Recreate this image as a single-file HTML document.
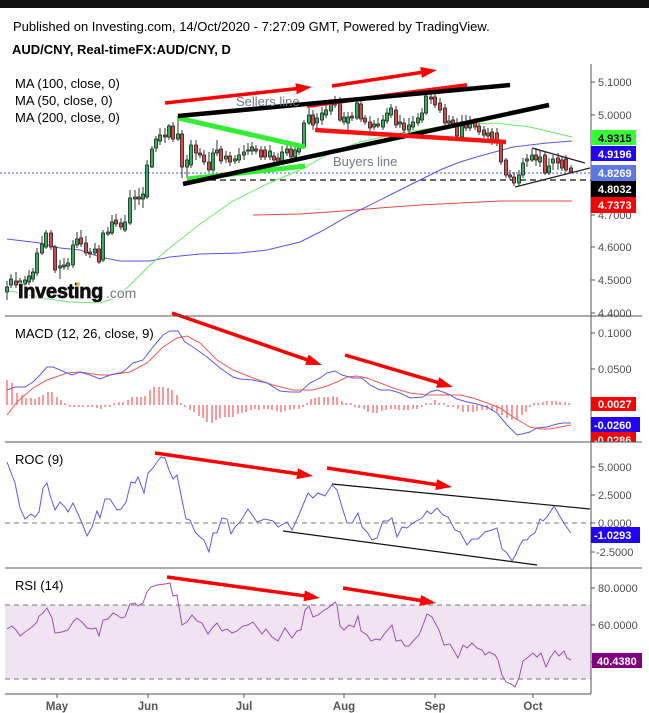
<!DOCTYPE html>
<html><head><meta charset="utf-8"><style>
html,body{margin:0;padding:0;background:#fff;}
svg{display:block;font-family:"Liberation Sans",Arial,sans-serif;}
.ax{font-size:11px;fill:#4d4d4d;}
.lb{font-size:11px;font-weight:bold;fill:#fff;}
.t13{font-size:13px;fill:#000;}
.mo{font-size:11.5px;font-weight:bold;fill:#555;text-anchor:middle;}
</style></head><body>
<svg width="649" height="713" viewBox="0 0 649 713" xmlns="http://www.w3.org/2000/svg">
<defs>
<marker id="ah" markerUnits="userSpaceOnUse" markerWidth="18" markerHeight="12" refX="3" refY="5.5" orient="auto"><path d="M0,0 L16,5.5 L0,11 z" fill="#ff0000"/></marker>
<clipPath id="cm"><rect x="0" y="316" width="649" height="126"/></clipPath>
</defs>
<rect x="0" y="0" width="649" height="713" fill="#fff"/>
<rect x="0" y="0" width="649" height="8" fill="#111"/>
<text x="13" y="31" class="t13">Published on Investing.com, 14/Oct/2020 - 7:27:09 GMT, Powered by TradingView.</text>
<text x="12" y="54" class="t13" font-weight="bold">AUD/CNY, Real-timeFX:AUD/CNY, D</text>

<!-- ===== PRICE PANEL ===== -->
<text x="15" y="88" class="t13">MA (100, close, 0)</text>
<text x="15" y="105" class="t13">MA (50, close, 0)</text>
<text x="15" y="122" class="t13">MA (200, close, 0)</text>

<!-- blue dotted last price line -->
<line x1="0" y1="173" x2="591" y2="173" stroke="#3355ff" stroke-width="1" stroke-dasharray="2,2"/>
<!-- black dashed -->
<line x1="190" y1="180" x2="591" y2="180" stroke="#111" stroke-width="1.3" stroke-dasharray="6,4"/>

<!-- MAs -->
<polyline fill="none" stroke="#ee4444" stroke-width="1" points="253,215 300,214 330,212 380,208 420,205 460,203 500,201 572,201"/>
<polyline fill="none" stroke="#5555ee" stroke-width="1" points="7,239 40,243 60,248 80,250 100,257 120,261 150,261 170,257 200,254 240,253 267,250 300,242 320,232 350,215 390,195 400,190 420,180 440,170 460,162 480,156 513,147 547,143 572,141"/>
<polyline fill="none" stroke="#66ee66" stroke-width="1" points="5,290 20,293 40,298 70,302 100,303 115,298 130,285 147,268 167,250 200,224 233,201 267,184 300,170 330,153 360,142 400,133 440,127 470,124 497,123 530,127 572,137"/>

<!-- candles wicks -->
<path fill="none" stroke="#333" stroke-width="1" d="M7 281V300M11 274V288M16 272V288M20 278V287M25 276V287M29 270V285M33 268V282M37 248V276M42 236V255M46 230V249M51 230V250M55 245V273M60 260V279M64 258V270M68 258V270M73 240V268M77 232V248M81 230V247M86 236V256M90 248V258M95 243V255M99 245V264M103 230V262M108 227V236M112 215V235M116 214V227M121 218V230M125 215V232M130 190V225M135 190V210M139 188V205M143 187V208M147 160V199M152 146V168M156 136V152M160 128V145M165 128V143M169 124V140M173 122V142M178 116V141M182 130V178M187 155V178M191 140V168M196 140V160M200 148V158M204 150V165M209 152V172M213 148V172M217 140V156M221 146V164M226 151V163M230 152V166M235 155V164M239 148V163M244 145V160M248 143V155M252 142V155M256 145V154M261 146V160M265 146V160M270 145V160M274 152V163M278 153V165M282 146V165M287 141V156M291 145V160M295 145V159M299 144V155M304 120V148M309 108V125M313 110V130M317 113V128M322 107V125M326 104V118M331 99V115M335 96V108M340 97V122M344 112V125M348 112V130M352 112V121M357 100V120M361 100V122M365 115V125M370 116V131M374 120V130M378 118V128M383 115V130M387 108V124M391 104V118M396 106V128M400 115V128M404 118V133M409 118V133M413 116V130M418 113V126M422 108V123M426 92V115M431 92V104M435 93V108M440 98V113M445 104V125M449 115V128M453 116V128M457 118V139M462 115V139M466 115V131M470 116V131M475 118V130M479 123V135M484 126V138M488 128V139M492 128V145M497 128V146M501 140V165M506 158V178M510 170V180M514 172V186M519 170V186M523 158V178M527 154V167M532 149V162M536 148V166M540 150V167M545 151V175M549 158V175M553 155V170M558 153V170M562 156V171M566 155V172M571 165V173"/>
<!-- green bodies -->
<path fill="#2fb356" stroke="#1b1b1b" stroke-width="0.8" d="M5.5 287h3v5h-3zM9.5 279h3v6h-3zM18.5 281h3v3h-3zM23.5 280h3v4h-3zM27.5 276h3v6h-3zM31.5 272h3v7h-3zM35.5 253h3v20h-3zM40.5 244h3v9h-3zM44.5 233h3v14h-3zM58.5 266h3v2h-3zM62.5 265h3v2h-3zM66.5 263h3v3h-3zM71.5 245h3v20h-3zM75.5 239h3v6h-3zM93.5 249h3v4h-3zM101.5 233h3v27h-3zM106.5 232h3v2h-3zM110.5 222h3v11h-3zM123.5 222h3v8h-3zM128.5 198h3v25h-3zM133.5 197h3v2h-3zM141.5 194h3v5h-3zM145.5 165h3v32h-3zM150.5 149h3v18h-3zM154.5 139h3v9h-3zM158.5 135h3v6h-3zM167.5 126h3v11h-3zM176.5 134h3v5h-3zM185.5 160h3v7h-3zM189.5 145h3v20h-3zM211.5 153h3v17h-3zM215.5 150h3v3h-3zM224.5 156h3v3h-3zM233.5 159h3v2h-3zM237.5 155h3v5h-3zM242.5 152h3v3h-3zM246.5 150h3v1h-3zM250.5 147h3v4h-3zM268.5 151h3v6h-3zM280.5 152h3v11h-3zM285.5 149h3v4h-3zM293.5 150h3v7h-3zM297.5 148h3v4h-3zM302.5 123h3v24h-3zM307.5 115h3v8h-3zM315.5 118h3v5h-3zM320.5 113h3v7h-3zM324.5 110h3v5h-3zM329.5 104h3v7h-3zM333.5 100h3v5h-3zM342.5 117h3v5h-3zM346.5 117h3v6h-3zM355.5 103h3v15h-3zM372.5 124h3v3h-3zM381.5 120h3v7h-3zM385.5 113h3v8h-3zM389.5 108h3v7h-3zM398.5 122h3v2h-3zM407.5 125h3v5h-3zM411.5 122h3v5h-3zM416.5 118h3v5h-3zM420.5 113h3v7h-3zM424.5 96h3v17h-3zM447.5 121h3v2h-3zM460.5 122h3v15h-3zM468.5 122h3v6h-3zM486.5 133h3v3h-3zM517.5 175h3v8h-3zM521.5 163h3v12h-3zM525.5 159h3v2h-3zM530.5 155h3v5h-3zM538.5 157h3v5h-3zM547.5 166h3v7h-3zM551.5 159h3v4h-3z"/>
<!-- red bodies -->
<path fill="#e04646" stroke="#1b1b1b" stroke-width="0.8" d="M14.5 281h3v4h-3zM49.5 233h3v14h-3zM53.5 247h3v23h-3zM79.5 238h3v6h-3zM84.5 243h3v10h-3zM88.5 252h3v2h-3zM97.5 249h3v13h-3zM114.5 220h3v4h-3zM119.5 223h3v4h-3zM137.5 197h3v2h-3zM163.5 135h3v2h-3zM171.5 126h3v13h-3zM180.5 134h3v33h-3zM194.5 145h3v8h-3zM198.5 153h3v2h-3zM202.5 155h3v7h-3zM207.5 162h3v8h-3zM219.5 149h3v12h-3zM228.5 156h3v6h-3zM254.5 149h3v2h-3zM259.5 150h3v7h-3zM263.5 150h3v7h-3zM272.5 156h3v4h-3zM276.5 158h3v4h-3zM289.5 149h3v8h-3zM311.5 115h3v10h-3zM338.5 100h3v20h-3zM350.5 116h3v2h-3zM359.5 104h3v15h-3zM363.5 118h3v4h-3zM368.5 122h3v6h-3zM376.5 124h3v2h-3zM394.5 110h3v15h-3zM402.5 123h3v7h-3zM429.5 97h3v2h-3zM433.5 97h3v8h-3zM438.5 103h3v7h-3zM443.5 108h3v15h-3zM451.5 120h3v5h-3zM455.5 123h3v13h-3zM464.5 122h3v6h-3zM473.5 122h3v5h-3zM477.5 126h3v6h-3zM482.5 130h3v5h-3zM490.5 132h3v10h-3zM495.5 133h3v10h-3zM499.5 142h3v20h-3zM504.5 160h3v15h-3zM508.5 175h3v2h-3zM512.5 177h3v6h-3zM534.5 155h3v5h-3zM543.5 155h3v18h-3zM556.5 158h3v5h-3zM560.5 160h3v8h-3zM564.5 159h3v11h-3zM569.5 168h3v4h-3z"/>

<!-- logo -->
<text x="18" y="298" font-size="20" font-weight="bold" fill="#111" stroke="#fff" stroke-width="2.5" paint-order="stroke" letter-spacing="-0.3">Investing</text>
<text x="18" y="298" font-size="20" font-weight="bold" fill="#111" stroke="#111" stroke-width="0.7" letter-spacing="-0.3">Investing</text>
<text x="106" y="298" font-size="14" fill="#777" stroke="#fff" stroke-width="2" paint-order="stroke">.com</text>
<circle cx="78" cy="284" r="1.8" fill="#f5a623"/>

<!-- annotations price -->
<line x1="178" y1="118" x2="305" y2="147" stroke="#33ee33" stroke-width="5"/>
<line x1="187" y1="179" x2="305" y2="166" stroke="#33ee33" stroke-width="5"/>
<line x1="307" y1="106" x2="467" y2="85" stroke="#ff1111" stroke-width="4"/>
<line x1="178" y1="116" x2="510" y2="85" stroke="#000" stroke-width="4.5"/>
<line x1="183" y1="184" x2="549" y2="105" stroke="#000" stroke-width="4.5"/>
<line x1="315" y1="130" x2="506" y2="142" stroke="#ff1111" stroke-width="4.5"/>
<line x1="532" y1="148" x2="585" y2="163" stroke="#222" stroke-width="1.3"/>
<line x1="515" y1="187" x2="590" y2="168" stroke="#222" stroke-width="1.3"/>
<line x1="165" y1="103" x2="299" y2="88.4" stroke="#ff0000" stroke-width="3.5" marker-end="url(#ah)"/>
<line x1="332" y1="86" x2="424" y2="72" stroke="#ff0000" stroke-width="3.5" marker-end="url(#ah)"/>
<text x="236" y="106" font-size="13" fill="#6c7a89">Sellers line</text>
<text x="333" y="166" font-size="13" fill="#6c7a89">Buyers line</text>

<!-- ===== MACD PANEL ===== -->
<text x="15" y="338" class="t13">MACD (12, 26, close, 9)</text>
<path fill="none" stroke="#ff3333" stroke-width="1" d="M7 405V380M12 405V383M17 405V393M22 405V395M26 405V398M31 405V398M35 405V399M39 405V397M43 405V395M48 405V392M52 405V392M57 405V397M61 405V400M65 405V403M70 405V407M74 405V407M79 405V407M83 405V407M88 405V407M92 405V407M97 405V408M101 405V409M105 405V407M110 405V407M114 405V403M119 405V402M123 405V402M128 405V400M132 405V397M137 405V397M141 405V397M145 405V396M150 405V390M154 405V387M159 405V387M163 405V387M168 405V388M172 405V390M177 405V395M181 405V403M185 405V407M190 405V410M194 405V412M199 405V416M203 405V418M207 405V422M212 405V423M216 405V420M220 405V418M225 405V417M229 405V417M233 405V417M238 405V414M242 405V413M246 405V412M251 405V410M255 405V409M259 405V410M264 405V409M268 405V409M272 405V410M277 405V411M281 405V412M285 405V411M290 405V410M294 405V409M299 405V409M303 405V407M307 405V403M311 405V399M315 405V398M319 405V397M324 405V397M328 405V397M333 405V396M337 405V397M342 405V401M346 405V403M351 405V403M355 405V407M359 405V408M364 405V409M368 405V412M373 405V413M377 405V413M382 405V411M386 405V410M391 405V409M395 405V409M399 405V410M404 405V410M408 405V410M413 405V409M417 405V409M422 405V407M426 405V403M431 405V403M435 405V400M439 405V403M444 405V403M448 405V407M453 405V407M458 405V409M463 405V412M468 405V412M473 405V412M477 405V411M482 405V410M487 405V410M492 405V411M497 405V412M502 405V415M507 405V418M512 405V420M517 405V420M522 405V415M526 405V412M530 405V407M534 405V403M538 405V403M543 405V402M547 405V401M552 405V401M556 405V401M560 405V402M565 405V402M569 405V403"/>
<polyline fill="none" stroke="#ff5555" stroke-width="1" points="7,415 17,402 33,388 47,380 67,373 80,372 100,375 110,375 130,372 147,363 163,347 177,338 187,336 200,343 217,360 233,370 253,378 273,385 293,390 313,390 327,386 337,382 347,377 357,376 367,378 380,383 393,388 410,393 427,395 443,395 460,395 473,398 487,403 500,408 513,417 530,427 540,429 550,429 560,427 571,425"/>
<polyline fill="none" stroke="#5a5af5" stroke-width="1" points="7,390 15,387 25,387 33,382 40,375 47,367 53,367 60,370 67,373 72,375 80,372 90,375 100,379 110,375 123,372 133,363 143,360 153,347 163,335 170,331 178,331 185,342 193,347 207,357 220,368 233,377 240,379 253,380 267,383 280,391 290,392 300,392 310,383 320,378 327,373 335,371 342,375 353,378 362,378 370,385 380,390 390,390 400,393 410,398 423,397 430,392 437,390 443,392 450,395 457,399 467,402 477,404 487,407 497,413 507,425 517,435 522,434 530,432 537,428 547,427 557,424 563,423 571,423"/>
<line x1="172" y1="313" x2="309.7" y2="360.7" stroke="#ff0000" stroke-width="3.5" marker-end="url(#ah)"/>
<line x1="345" y1="355" x2="440.5" y2="383.3" stroke="#ff0000" stroke-width="3.5" marker-end="url(#ah)"/>

<!-- ===== ROC PANEL ===== -->
<text x="15" y="464" class="t13">ROC (9)</text>
<line x1="5" y1="523" x2="591" y2="523" stroke="#777" stroke-width="1" stroke-dasharray="5,4"/>
<line x1="332" y1="484" x2="590" y2="509" stroke="#111" stroke-width="1.2"/>
<line x1="283" y1="531" x2="537" y2="565" stroke="#111" stroke-width="1.2"/>
<polyline fill="none" stroke="#5b5bf5" stroke-width="1" points="7,462 15,483 20,508 25,519 31,514 35,517 39,512 43,488 47,483 50,495 55,510 60,502 65,507 68,512 73,503 82,523 87,536 92,527 97,511 100,518 105,499 110,499 117,510 121,509 126,502 131,482 135,483 138,477 144,493 148,473 153,468 157,462 161,457 165,458 169,470 173,479 177,475 182,500 186,519 190,520 195,532 200,537 204,540 209,552 213,533 217,533 222,518 227,519 231,534 235,527 240,522 248,509 257,522 265,519 273,521 278,527 287,522 292,530 298,517 303,505 308,493 313,498 318,493 325,496 332,485 337,490 342,507 347,523 352,523 358,513 362,527 367,532 372,540 377,538 383,521 388,521 392,518 397,537 402,527 407,528 413,523 422,518 427,511 431,514 437,508 443,515 448,517 455,530 460,532 467,545 472,539 478,539 485,532 492,530 497,528 502,549 507,553 512,561 515,556 520,545 523,540 527,540 530,536 535,533 540,519 543,521 547,517 554,506 558,513 565,525 571,533"/>
<line x1="155" y1="453" x2="300.1" y2="474.1" stroke="#ff0000" stroke-width="3.5" marker-end="url(#ah)"/>
<line x1="327" y1="468" x2="439.1" y2="485" stroke="#ff0000" stroke-width="3.5" marker-end="url(#ah)"/>

<!-- ===== RSI PANEL ===== -->
<rect x="5" y="605" width="586" height="74" fill="#f1e4f2"/>
<line x1="5" y1="605" x2="591" y2="605" stroke="#777" stroke-width="1" stroke-dasharray="5,4"/>
<line x1="5" y1="679" x2="591" y2="679" stroke="#777" stroke-width="1" stroke-dasharray="5,4"/>
<text x="15" y="590" class="t13">RSI (14)</text>
<polyline fill="none" stroke="#a24bb6" stroke-width="1" points="7,629 12,626 16,630 20,636 25,632 32,627 37,622 39,616 43,613 47,608 52,618 55,633 62,632 68,630 73,622 77,618 82,622 87,628 92,629 96,628 99,636 103,620 108,619 113,613 117,615 121,618 125,617 130,604 135,603 138,606 143,603 147,592 151,587 157,585 165,584 170,583 173,596 177,595 182,625 187,622 192,615 197,621 202,623 208,634 213,627 217,623 222,631 227,629 232,633 237,631 243,626 248,625 253,622 262,634 266,629 272,637 278,641 285,628 292,638 297,631 301,630 305,610 309,606 313,617 318,615 323,611 328,608 335,602 337,605 340,626 344,630 349,625 354,627 358,616 361,631 367,635 371,641 376,639 380,640 385,633 392,625 396,641 401,640 405,646 409,646 414,640 419,635 423,625 427,614 432,617 439,630 444,645 450,644 458,658 463,645 467,648 472,643 477,648 482,650 485,655 489,652 495,655 498,660 502,675 506,682 511,684 515,687 519,678 523,661 527,658 533,653 537,657 541,653 546,667 550,658 555,651 559,656 564,651 567,658 571,660"/>
<line x1="167" y1="577" x2="307.1" y2="596.2" stroke="#ff0000" stroke-width="3.5" marker-end="url(#ah)"/>
<line x1="343" y1="588" x2="423.2" y2="600.9" stroke="#ff0000" stroke-width="3.5" marker-end="url(#ah)"/>

<!-- ===== FRAME / AXES ===== -->
<line x1="5" y1="316" x2="642" y2="316" stroke="#555" stroke-width="1"/>
<line x1="5" y1="442" x2="642" y2="442" stroke="#555" stroke-width="1"/>
<line x1="5" y1="568" x2="642" y2="568" stroke="#555" stroke-width="1"/>
<line x1="5" y1="694" x2="591" y2="694" stroke="#555" stroke-width="1"/>
<line x1="591" y1="64" x2="591" y2="694" stroke="#555" stroke-width="1"/>
<path stroke="#555" stroke-width="1" d="M591 82h4M591 115h4M591 148h4M591 181h4M591 215h4M591 247h4M591 280h4M591 313h4M591 333h4M591 369h4M591 405h4M591 467h4M591 495h4M591 523h4M591 552h4M591 588h4M591 625h4M591 662h4M57 694v4M148 694v4M244 694v4M344 694v4M435 694v4M533 694v4"/>

<text x="598" y="86" class="ax">5.1000</text>
<text x="598" y="119" class="ax">5.0000</text>
<text x="598" y="219" class="ax">4.7000</text>
<text x="598" y="251" class="ax">4.6000</text>
<text x="598" y="284" class="ax">4.5000</text>
<text x="598" y="317" class="ax">4.4000</text>
<text x="598" y="337" class="ax">0.1000</text>
<text x="598" y="373" class="ax">0.0500</text>
<text x="598" y="471" class="ax">5.0000</text>
<text x="598" y="499" class="ax">2.5000</text>
<text x="598" y="527" class="ax">0.0000</text>
<text x="596" y="556" class="ax">-2.5000</text>
<text x="598" y="592" class="ax">80.0000</text>
<text x="598" y="629" class="ax">60.0000</text>

<!-- price labels -->
<rect x="591" y="130" width="45" height="15" fill="#33ff33"/>
<text x="598" y="142" class="lb" style="fill:#000">4.9315</text>
<rect x="591" y="146" width="45" height="15" fill="#2200ff"/>
<text x="598" y="158" class="lb">4.9196</text>
<rect x="591" y="165" width="45" height="16" fill="#5b78e6"/>
<text x="598" y="177" class="lb">4.8269</text>
<rect x="591" y="181" width="45" height="16" fill="#000"/>
<text x="598" y="193" class="lb">4.8032</text>
<rect x="591" y="197" width="45" height="16" fill="#ff0000"/>
<text x="598" y="209" class="lb">4.7373</text>

<!-- MACD labels -->
<rect x="591" y="397" width="45" height="14" fill="#ff0000"/>
<text x="598" y="408" class="lb">0.0027</text>
<rect x="591" y="417" width="49" height="15" fill="#2200ff"/>
<text x="594" y="429" class="lb">-0.0260</text>
<g clip-path="url(#cm)">
<rect x="591" y="432" width="45" height="15" fill="#ff0000"/>
<text x="594" y="444" class="lb">-0.0286</text>
</g>
<line x1="591" y1="442" x2="642" y2="442" stroke="#555" stroke-width="1"/>

<!-- ROC label -->
<rect x="591" y="527" width="49" height="16" fill="#2200ff"/>
<text x="594" y="539" class="lb">-1.0293</text>

<!-- RSI label -->
<rect x="592" y="653" width="50" height="15" fill="#800080"/>
<text x="597" y="665" class="lb">40.4380</text>

<!-- months -->
<text x="57" y="710" class="mo">May</text>
<text x="148" y="710" class="mo">Jun</text>
<text x="244" y="710" class="mo">Jul</text>
<text x="344" y="710" class="mo">Aug</text>
<text x="435" y="710" class="mo">Sep</text>
<text x="533" y="710" class="mo">Oct</text>
</svg>
</body></html>
